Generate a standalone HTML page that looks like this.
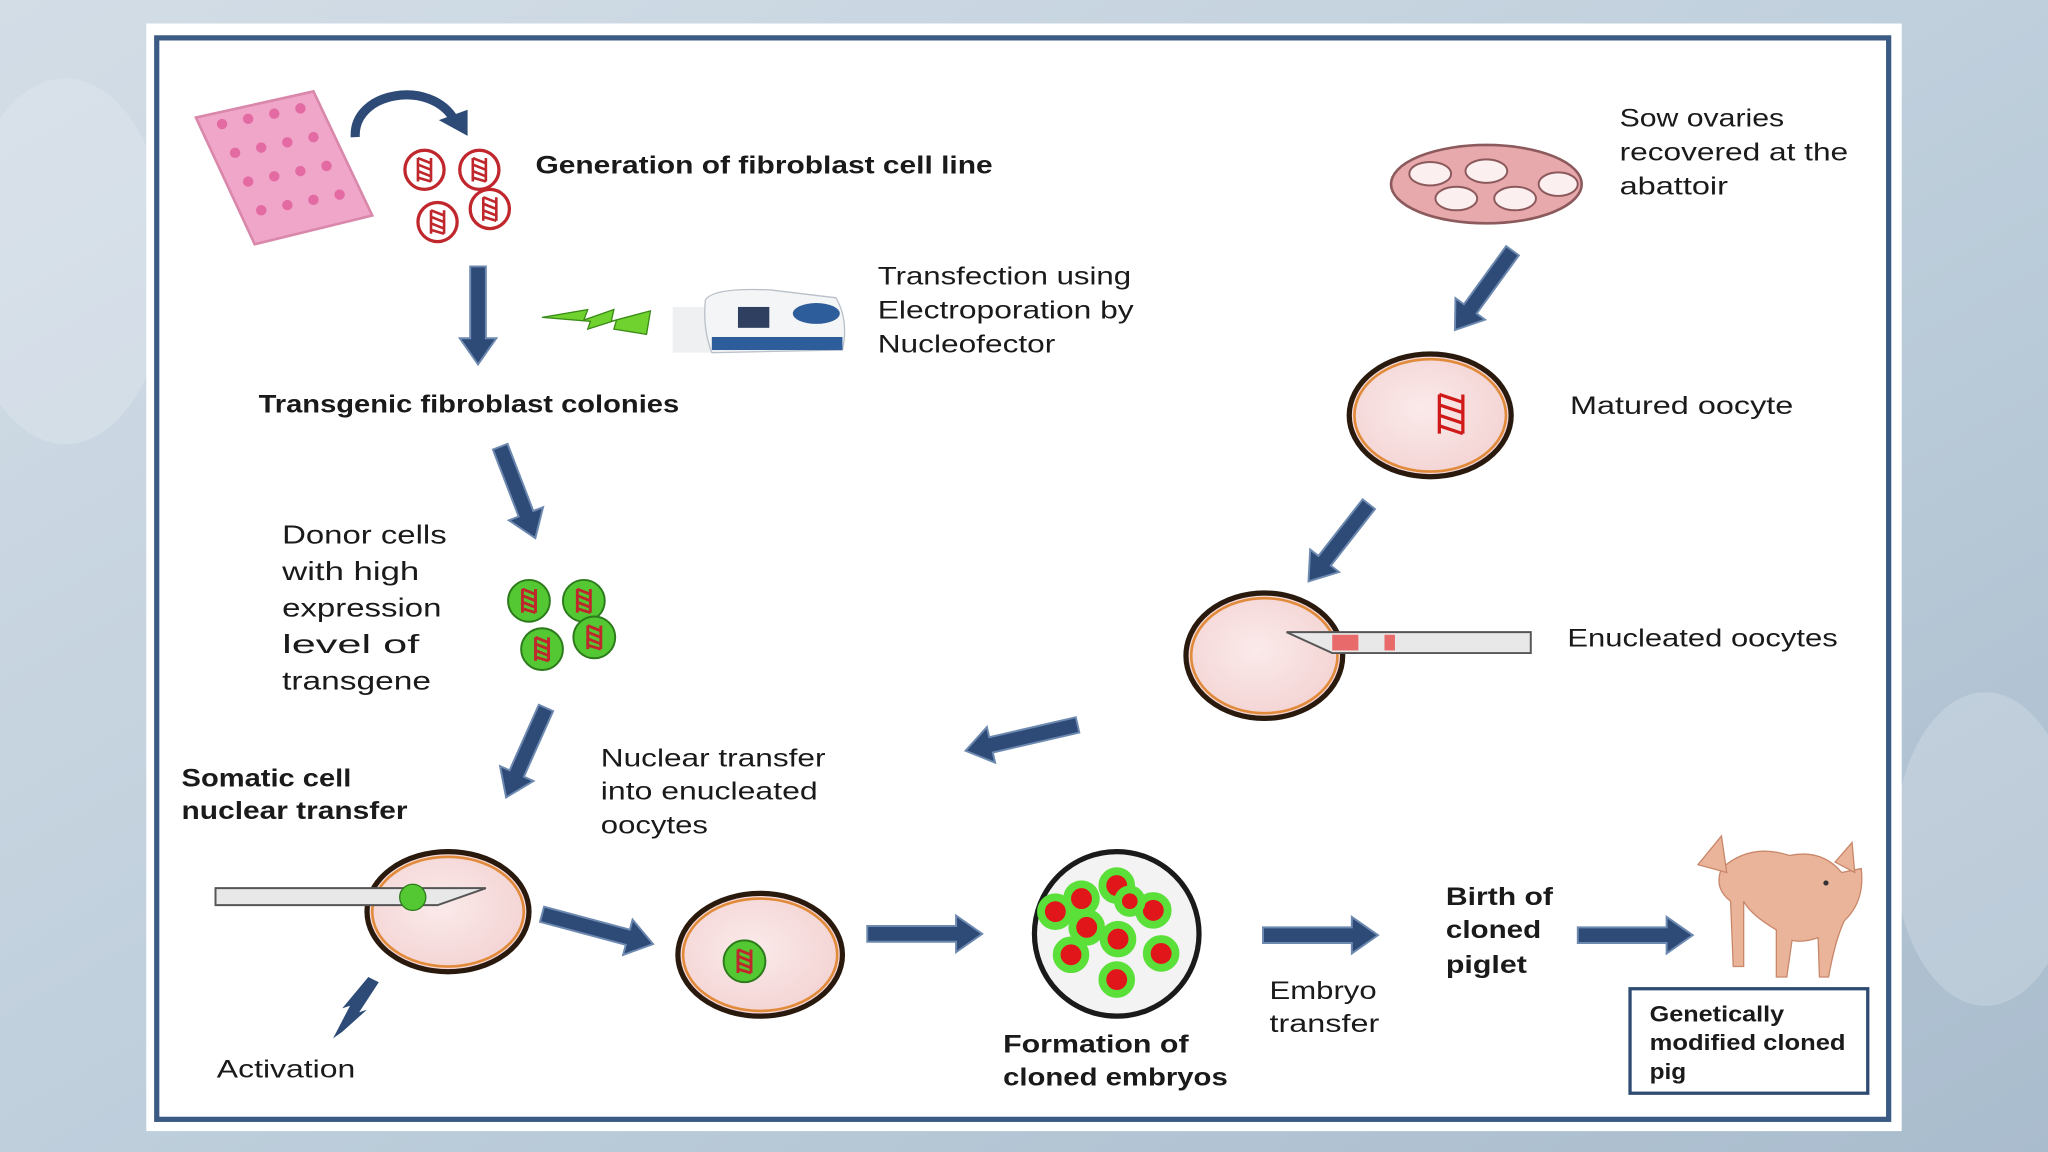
<!DOCTYPE html>
<html><head><meta charset="utf-8"><style>
html,body{margin:0;padding:0;width:2048px;height:1152px;overflow:hidden;}
svg{display:block}
text{font-family:"Liberation Sans","DejaVu Sans",sans-serif;fill:#1a1a1a}
.b{font-weight:bold}
</style></head><body>
<svg width="2048" height="1152" viewBox="0 0 1568 882" preserveAspectRatio="none" xmlns="http://www.w3.org/2000/svg">
<defs>
<linearGradient id="bg" x1="0" y1="0" x2="1" y2="1">
<stop offset="0" stop-color="#d3dde6"/><stop offset="0.5" stop-color="#bfcfdc"/><stop offset="1" stop-color="#a9bccd"/>
</linearGradient>
<radialGradient id="oo" cx="0.45" cy="0.45" r="0.6"><stop offset="0" stop-color="#fbeaea"/><stop offset="1" stop-color="#f3d2d2"/></radialGradient>
<g id="a75"><polygon points="0,-6 55,-6 55,-14 75,0 55,14 55,6 0,6" fill="#2e4b78" stroke="#6d89b0" stroke-width="1.5"/></g>
<g id="a88"><polygon points="0,-6 68,-6 68,-14 88,0 68,14 68,6 0,6" fill="#2e4b78" stroke="#6d89b0" stroke-width="1.5"/></g>
<g id="rc"><circle r="15" fill="#fff" stroke="#c0272d" stroke-width="2.5"/><path d="M-5,-9 L5,-5 M-5,-4 L5,0 M-5,1 L5,5 M-5,6 L5,9 M-5,-9 L-5,9 M5,-9 L5,9" stroke="#c0272d" stroke-width="2" fill="none"/></g>
<g id="gc"><circle r="16" fill="#54c832" stroke="#2c7a1c" stroke-width="1.5"/><path d="M-5,-9 L5,-5 M-5,-4 L5,0 M-5,1 L5,5 M-5,6 L5,9 M-5,-9 L-5,9 M5,-9 L5,9" stroke="#c0272d" stroke-width="2.2" fill="none"/></g>
</defs>
<rect width="1568" height="882" fill="url(#bg)"/>
<ellipse cx="50" cy="200" rx="80" ry="140" fill="#e6ecf1" opacity="0.35"/>
<ellipse cx="1520" cy="650" rx="70" ry="120" fill="#e0e8ef" opacity="0.3"/>
<rect x="112" y="18" width="1344" height="848" fill="#fff"/>
<rect x="120" y="29" width="1326" height="828" fill="none" stroke="#3b5a84" stroke-width="4"/>

<polygon points="150,90 240,70 285,165 195,187" fill="#f0a6c8" stroke="#d987aa" stroke-width="2"/>
<g fill="#e46aa4">
<circle cx="170" cy="95" r="4"/><circle cx="190" cy="91" r="4"/><circle cx="210" cy="87" r="4"/><circle cx="230" cy="83" r="4"/>
<circle cx="180" cy="117" r="4"/><circle cx="200" cy="113" r="4"/><circle cx="220" cy="109" r="4"/><circle cx="240" cy="105" r="4"/>
<circle cx="190" cy="139" r="4"/><circle cx="210" cy="135" r="4"/><circle cx="230" cy="131" r="4"/><circle cx="250" cy="127" r="4"/>
<circle cx="200" cy="161" r="4"/><circle cx="220" cy="157" r="4"/><circle cx="240" cy="153" r="4"/><circle cx="260" cy="149" r="4"/>
</g>
<path d="M272,105 C270,70 330,60 348,92" fill="none" stroke="#2e4b78" stroke-width="7"/>
<polygon points="336,92 358,104 358,84" fill="#2e4b78"/>
<use href="#rc" x="325" y="130"/><use href="#rc" x="367" y="130"/><use href="#rc" x="335" y="170"/><use href="#rc" x="375" y="160"/>
<text x="410" y="133" font-size="19" class="b" textLength="350" lengthAdjust="spacingAndGlyphs">Generation of fibroblast cell line</text>

<use href="#a75" transform="translate(366,204) rotate(90)"/>
<polygon points="415,243 450,237 447,245 470,237 468,246 498,238 495,256 470,252 472,245 450,252 452,246" fill="#6fd22e" stroke="#3a8a18" stroke-width="1"/>
<rect x="515" y="235" width="30" height="35" fill="#eef0f2"/>
<path d="M540,230 Q545,220 590,222 L640,228 Q650,245 645,268 L545,270 Q538,252 540,230Z" fill="#f4f5f6" stroke="#b9c0c8"/>
<rect x="565" y="235" width="24" height="16" fill="#2e3f60"/>
<ellipse cx="625" cy="240" rx="18" ry="8" fill="#2d5d9a"/>
<rect x="545" y="258" width="100" height="10" fill="#2d5d9a"/>
<text font-size="19"><tspan x="672" y="218" textLength="194" lengthAdjust="spacingAndGlyphs">Transfection using</tspan></text>
<text font-size="19"><tspan x="672" y="244" textLength="196" lengthAdjust="spacingAndGlyphs">Electroporation by</tspan></text>
<text font-size="19"><tspan x="672" y="270" textLength="136" lengthAdjust="spacingAndGlyphs">Nucleofector</tspan></text>

<text x="198" y="316" font-size="19" class="b" textLength="322" lengthAdjust="spacingAndGlyphs">Transgenic fibroblast colonies</text>
<use href="#a75" transform="translate(383,342) rotate(69)"/>
<text x="216" y="416" font-size="20" textLength="126" lengthAdjust="spacingAndGlyphs">Donor cells</text>
<text x="216" y="444" font-size="20" textLength="105" lengthAdjust="spacingAndGlyphs">with high</text>
<text x="216" y="472" font-size="20" textLength="122" lengthAdjust="spacingAndGlyphs">expression</text>
<text x="216" y="500" font-size="20" textLength="105" lengthAdjust="spacingAndGlyphs">level of</text>
<text x="216" y="528" font-size="20" textLength="114" lengthAdjust="spacingAndGlyphs">transgene</text>
<use href="#gc" x="405" y="460"/><use href="#gc" x="447" y="460"/><use href="#gc" x="415" y="497"/><use href="#gc" x="455" y="488"/>
<use href="#a75" transform="translate(418,542) rotate(114)"/>
<text x="139" y="602" font-size="19" class="b" textLength="130" lengthAdjust="spacingAndGlyphs">Somatic cell</text>
<text x="139" y="627" font-size="19" class="b" textLength="173" lengthAdjust="spacingAndGlyphs">nuclear transfer</text>
<text x="460" y="587" font-size="19" textLength="172" lengthAdjust="spacingAndGlyphs">Nuclear transfer</text>
<text x="460" y="612" font-size="19" textLength="166" lengthAdjust="spacingAndGlyphs">into enucleated</text>
<text x="460" y="638" font-size="19" textLength="82" lengthAdjust="spacingAndGlyphs">oocytes</text>

<ellipse cx="343" cy="698" rx="62" ry="46" fill="url(#oo)" stroke="#2a1a0e" stroke-width="4"/>
<ellipse cx="343" cy="698" rx="58" ry="42" fill="none" stroke="#e08a3a" stroke-width="2"/>
<polygon points="165,680 372,680 335,693 165,693" fill="#e8e8e8" stroke="#555" stroke-width="1.5"/>
<circle cx="316" cy="687" r="10" fill="#54c832" stroke="#2c7a1c"/>
<polygon points="255,795 268,770 262,772 282,748 290,752 275,775 281,773 262,790" fill="#2e4b78"/>
<text x="166" y="825" font-size="19" textLength="106" lengthAdjust="spacingAndGlyphs">Activation</text>
<use href="#a88" transform="translate(415,700) rotate(15)"/>

<ellipse cx="582" cy="731" rx="63" ry="47" fill="url(#oo)" stroke="#2a1a0e" stroke-width="4"/>
<ellipse cx="582" cy="731" rx="59" ry="43" fill="none" stroke="#e08a3a" stroke-width="2"/>
<use href="#gc" x="570" y="736"/>
<use href="#a88" transform="translate(664,715)"/>

<circle cx="855" cy="715" r="63" fill="#f3f3f3" stroke="#1a1a1a" stroke-width="4"/>
<g fill="#e0161b" stroke="#5be03a" stroke-width="6">
<circle cx="855" cy="678" r="11"/><circle cx="828" cy="688" r="11"/><circle cx="883" cy="697" r="11"/><circle cx="808" cy="698" r="11"/>
<circle cx="832" cy="710" r="11"/><circle cx="856" cy="719" r="11"/><circle cx="889" cy="730" r="11"/><circle cx="820" cy="731" r="11"/>
<circle cx="855" cy="750" r="11"/><circle cx="865" cy="690" r="9"/>
</g>
<text x="768" y="806" font-size="19" class="b" textLength="142" lengthAdjust="spacingAndGlyphs">Formation of</text>
<text x="768" y="831" font-size="19" class="b" textLength="172" lengthAdjust="spacingAndGlyphs">cloned embryos</text>
<use href="#a88" transform="translate(967,716)"/>
<text x="972" y="765" font-size="19" textLength="82" lengthAdjust="spacingAndGlyphs">Embryo</text>
<text x="972" y="790" font-size="19" textLength="84" lengthAdjust="spacingAndGlyphs">transfer</text>
<text x="1107" y="693" font-size="19" class="b" textLength="82" lengthAdjust="spacingAndGlyphs">Birth of</text>
<text x="1107" y="718" font-size="19" class="b" textLength="73" lengthAdjust="spacingAndGlyphs">cloned</text>
<text x="1107" y="745" font-size="19" class="b" textLength="62" lengthAdjust="spacingAndGlyphs">piglet</text>
<use href="#a88" transform="translate(1208,716)"/>

<g fill="#eab49a" stroke="#c9876a" stroke-width="1">
<path d="M1318,665 Q1340,645 1370,655 Q1395,650 1410,668 L1425,665 Q1428,690 1412,705 Q1405,720 1400,748 L1393,748 L1392,718 Q1380,722 1372,720 L1368,748 L1360,748 L1360,712 Q1340,700 1335,690 L1335,740 L1327,740 L1325,690 Q1312,680 1318,665Z"/>
<path d="M1300,662 L1318,640 L1322,668Z"/>
<path d="M1405,660 L1418,645 L1420,668Z"/>
</g>
<circle cx="1398" cy="676" r="2" fill="#333"/>
<rect x="1248" y="757" width="182" height="80" fill="#fff" stroke="#2d4a73" stroke-width="2.5"/>
<text x="1263" y="782" font-size="17" class="b" textLength="103" lengthAdjust="spacingAndGlyphs">Genetically</text>
<text x="1263" y="804" font-size="17" class="b" textLength="150" lengthAdjust="spacingAndGlyphs">modified cloned</text>
<text x="1263" y="826" font-size="17" class="b" textLength="28" lengthAdjust="spacingAndGlyphs">pig</text>

<ellipse cx="1138" cy="141" rx="73" ry="30" fill="#e8a9ac" stroke="#8c5a5c" stroke-width="2"/>
<g fill="#fbeff0" stroke="#8c5a5c" stroke-width="1.5">
<ellipse cx="1095" cy="133" rx="16" ry="9"/><ellipse cx="1138" cy="131" rx="16" ry="9"/><ellipse cx="1115" cy="152" rx="16" ry="9"/><ellipse cx="1160" cy="152" rx="16" ry="9"/><ellipse cx="1193" cy="141" rx="15" ry="9"/>
</g>
<text x="1240" y="97" font-size="19" textLength="126" lengthAdjust="spacingAndGlyphs">Sow ovaries</text>
<text x="1240" y="123" font-size="19" textLength="175" lengthAdjust="spacingAndGlyphs">recovered at the</text>
<text x="1240" y="149" font-size="19" textLength="83" lengthAdjust="spacingAndGlyphs">abattoir</text>
<use href="#a75" transform="translate(1158,192) rotate(126)"/>
<ellipse cx="1095" cy="318" rx="62" ry="47" fill="url(#oo)" stroke="#2a1a0e" stroke-width="4"/>
<ellipse cx="1095" cy="318" rx="58" ry="43" fill="none" stroke="#e08a3a" stroke-width="2"/>
<path d="M1102,302 L1120,308 M1102,310 L1120,316 M1102,318 L1120,324 M1102,326 L1120,332 M1102,302 L1102,332 M1120,302 L1120,332" stroke="#d01a1a" stroke-width="2.5"/>
<text x="1202" y="317" font-size="19" textLength="171" lengthAdjust="spacingAndGlyphs">Matured oocyte</text>
<use href="#a75" transform="translate(1048,386) rotate(128)"/>
<ellipse cx="968" cy="502" rx="60" ry="48" fill="url(#oo)" stroke="#2a1a0e" stroke-width="4"/>
<ellipse cx="968" cy="502" rx="56" ry="44" fill="none" stroke="#e08a3a" stroke-width="2"/>
<polygon points="985,484 1172,484 1172,500 1020,500" fill="#e8e8e8" stroke="#555" stroke-width="1.5"/>
<rect x="1020" y="486" width="20" height="12" fill="#e86a6a"/><rect x="1060" y="486" width="8" height="12" fill="#e86a6a"/>
<text x="1200" y="495" font-size="19" textLength="207" lengthAdjust="spacingAndGlyphs">Enucleated oocytes</text>
<use href="#a88" transform="translate(825,555) rotate(167)"/>
</svg>
</body></html>
